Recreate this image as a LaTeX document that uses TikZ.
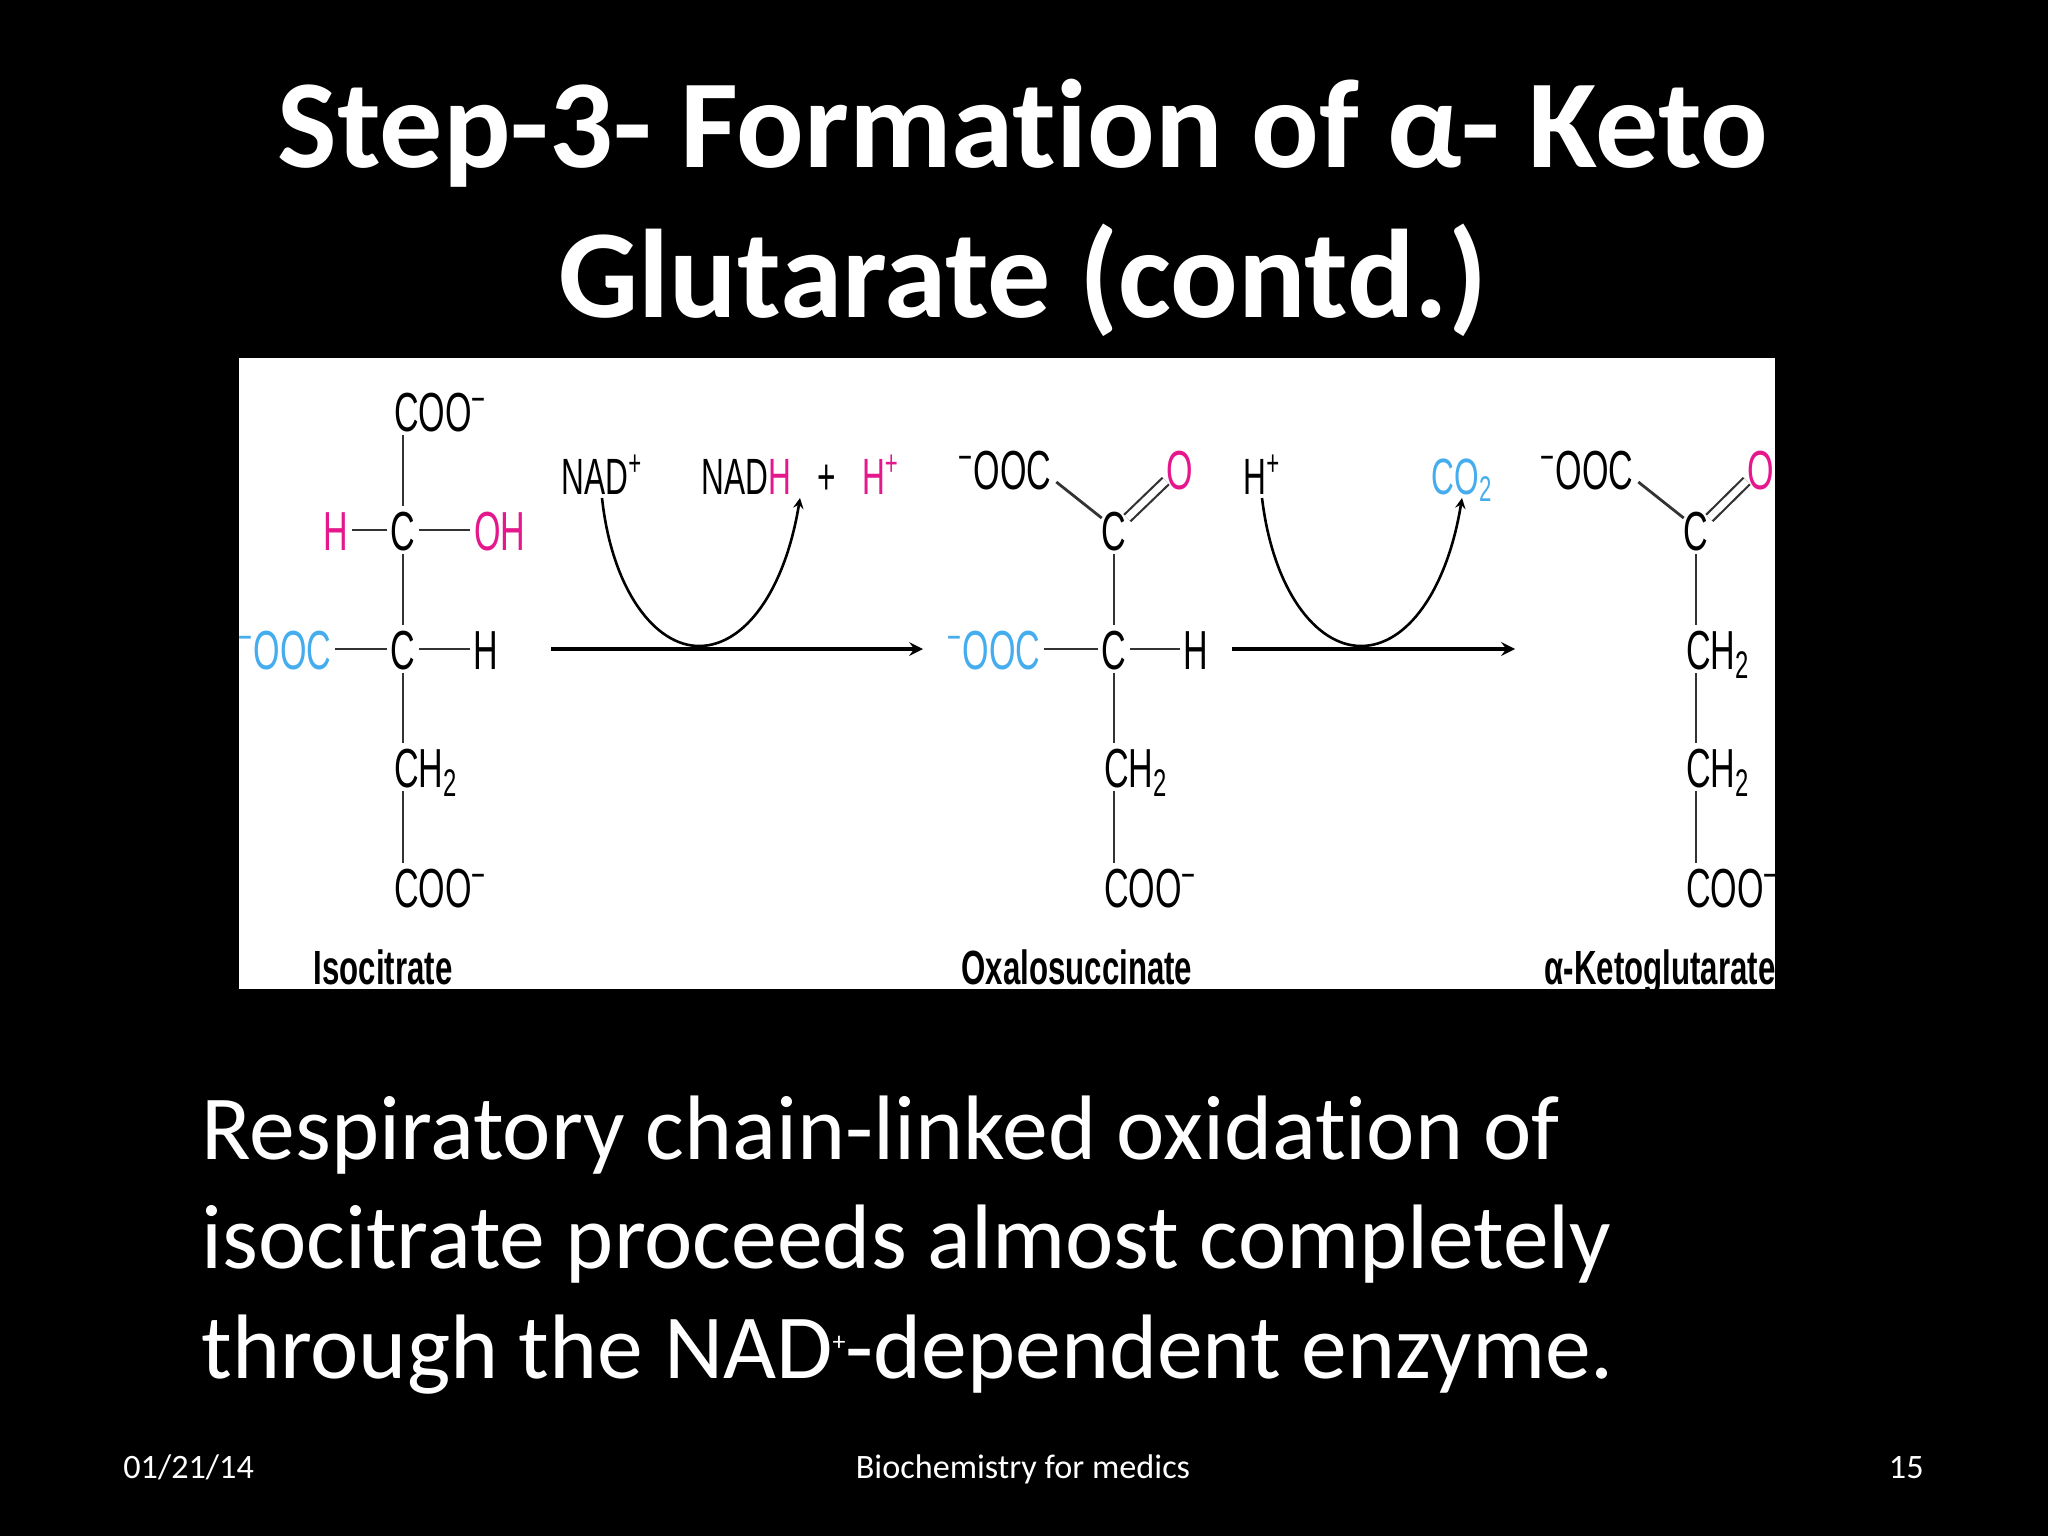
\documentclass[tikz,border=0pt]{standalone}
\usepackage{fontspec}
\usepackage{tikz}
\usetikzlibrary{arrows}
\setmainfont[Ligatures=NoCommon]{Carlito}
\newfontfamily\chemfont[FakeStretch=0.62]{Liberation Sans}
\newfontfamily\namefont[FakeStretch=0.65]{Liberation Sans Bold}
\definecolor{rosepink}{HTML}{E5178C}
\definecolor{skyblue}{HTML}{45ADEE}
\definecolor{bondgrey}{HTML}{333333}
\newcommand{\smallplus}{\raisebox{0.3em}{\fontsize{13}{13}\selectfont +}}
\tikzstyle{atom} = [inner sep=0pt, outer sep=2pt, text height=20pt, text depth=0pt, text=black, font=\chemfont\fontsize{27.5}{30}\selectfont]
\tikzstyle{pinkatom} = [atom, text=rosepink]
\tikzstyle{blueatom} = [atom, text=skyblue]
\tikzstyle{cofactor} = [atom, text height=18pt, font=\chemfont\fontsize{25.5}{27}\selectfont]
\tikzstyle{compound} = [inner sep=0pt, anchor=base, text=black, font=\namefont\fontsize{24}{26}\selectfont]
\tikzstyle{bond} = [line width=1.4pt, draw=bondgrey]
\tikzstyle{doublebond} = [line width=1.1pt, draw=bondgrey, double=white, double distance=3.4pt]
\tikzstyle{arrow} = [line width=2pt,->,>=stealth]
\tikzstyle{curvearrow} = [line width=1.3pt,->,>=stealth]
\tikzstyle{footer} = [inner sep=0pt, text=white, font=\fontsize{17.1}{20}\selectfont]

\begin{document}
\begin{tikzpicture}[x=0.5pt, y=-0.5pt, node distance=59.5pt]
\fill[black] (0,0) rectangle (2048,1536);
\fill[white] (239,358) rectangle (1775,989);

\node (title) [text=white, align=center, inner sep=0pt, font=\bfseries\fontsize{63}{75}\selectfont] at (1023,208) {Step-3- Formation of α- Keto\\Glutarate (contd.)};

\begin{scope}
\clip (239,358) rectangle (1775,989);
% isocitrate
\node (isoA) [atom] at (403,530) {C};
\node (isoB) [atom, below of=isoA] {C};
\node (isoTop) [atom, anchor=west] at (390,411) {COO\textsuperscript{−}};
\node (isoCH) [atom, anchor=west] at (390,767) {CH\textsubscript{2}};
\node (isoEnd) [atom, anchor=west] at (390,887) {COO\textsuperscript{−}};
\node (isoH) [pinkatom] at (336,530) {H};
\node (isoOH) [pinkatom] at (500,530) {OH};
\node (isoOOC) [blueatom] at (285,649) {\textsuperscript{−}OOC};
\node (isoHb) [atom] at (486,649) {H};
\node (isoName) [compound] at (383,984) {Isocitrate};
\draw [bond] (isoA.north) -- (isoA.north |- isoTop.south);
\draw [bond] (isoA) -- (isoB);
\draw [bond] (isoB.south) -- (isoB.south |- isoCH.north);
\draw [bond] (isoB.south |- isoCH.south) -- (isoB.south |- isoEnd.north);
\draw [bond] (isoH) -- (isoA);
\draw [bond] (isoA) -- (isoOH);
\draw [bond] (isoOOC) -- (isoB);
\draw [bond] (isoB) -- (isoHb);

% oxalosuccinate
\node (oxA) [atom] at (1114,530) {C};
\node (oxB) [atom, below of=oxA] {C};
\node (oxCOO) [atom] at (1005,469) {\textsuperscript{−}OOC};
\node (oxO) [pinkatom] at (1180,469) {O};
\node (oxCH) [atom, anchor=west] at (1100,767) {CH\textsubscript{2}};
\node (oxEnd) [atom, anchor=west] at (1100,887) {COO\textsuperscript{−}};
\node (oxOOC) [blueatom] at (994,649) {\textsuperscript{−}OOC};
\node (oxHb) [atom] at (1196,649) {H};
\node (oxName) [compound] at (1077,984) {Oxalosuccinate};
\draw [bond] ([shift={(0.5pt,5.5pt)}]oxCOO.south east) -- ([shift={(2pt,-6pt)}]oxA.north west);
\draw [doublebond] ([shift={(-1.5pt,-6pt)}]oxA.north east) -- ([shift={(1.5pt,6pt)}]oxO.south west);
\draw [bond] (oxA) -- (oxB);
\draw [bond] (oxB.south) -- (oxB.south |- oxCH.north);
\draw [bond] (oxB.south |- oxCH.south) -- (oxB.south |- oxEnd.north);
\draw [bond] (oxOOC) -- (oxB);
\draw [bond] (oxB) -- (oxHb);

% ketoglutarate, runs off the white box
\node (ketoA) [atom] at (1696,530) {C};
\node (ketoCOO) [atom] at (1587,469) {\textsuperscript{−}OOC};
\node (ketoO) [pinkatom] at (1761,469) {O};
\node (ketoCHa) [atom, anchor=west] at (1682,649) {CH\textsubscript{2}};
\node (ketoCHb) [atom, anchor=west] at (1682,767) {CH\textsubscript{2}};
\node (ketoEnd) [atom, anchor=west] at (1682,887) {COO\textsuperscript{−}};
\node (ketoName) [compound] at (1660,984) {α-Ketoglutarate};
\draw [bond] ([shift={(0.5pt,5.5pt)}]ketoCOO.south east) -- ([shift={(2pt,-6pt)}]ketoA.north west);
\draw [doublebond] ([shift={(-1.5pt,-6pt)}]ketoA.north east) -- ([shift={(1.5pt,6pt)}]ketoO.south west);
\draw [bond] (ketoA.south) -- (ketoA.south |- ketoCHa.north);
\draw [bond] (ketoA.south |- ketoCHa.south) -- (ketoA.south |- ketoCHb.north);
\draw [bond] (ketoA.south |- ketoCHb.south) -- (ketoA.south |- ketoEnd.north);
\end{scope}

% reaction arrows with cofactors
\node (nad) [cofactor] at (602,476) {NAD\textsuperscript{+}};
\node (nadh) [cofactor] at (800,476) {NAD\textcolor{rosepink}{H}\ \ \ +\ \ \ \textcolor{rosepink}{H\textsuperscript{+}}};
\coordinate (firstLow) at (699,646);
\coordinate (firstStart) at (551,649);
\coordinate (firstEnd) at (923,649);
\draw [arrow] (firstStart) -- (firstEnd);
\draw [curvearrow] (nad.south) .. controls (612,590) and (655,646) .. (firstLow) .. controls (745,646) and (785,590) .. (nadh.south);

\node (proton) [cofactor] at (1262,476) {H\textsuperscript{+}};
\node (co) [cofactor, text=skyblue] at (1462,476) {CO\textsubscript{2}};
\coordinate (secondLow) at (1361,646);
\coordinate (secondStart) at (1232,649);
\coordinate (secondEnd) at (1515,649);
\draw [arrow] (secondStart) -- (secondEnd);
\draw [curvearrow] (proton.south) .. controls (1273,590) and (1316,646) .. (secondLow) .. controls (1407,646) and (1447,590) .. (co.south);

\node (body) [text=white, align=left, inner sep=0pt, font=\fontsize{45.8}{54.75}\selectfont, anchor=west] at (201,1245) {Respiratory chain-linked oxidation of\\isocitrate proceeds almost completely\\through the NAD\smallplus-dependent enzyme.};

\node (date) [footer, anchor=base west] at (123,1478) {01/21/14};
\node (course) [footer, anchor=base] at (1023,1478) {Biochemistry for medics};
\node (page) [footer, anchor=base east] at (1924,1478) {15};
\end{tikzpicture}
\end{document}
